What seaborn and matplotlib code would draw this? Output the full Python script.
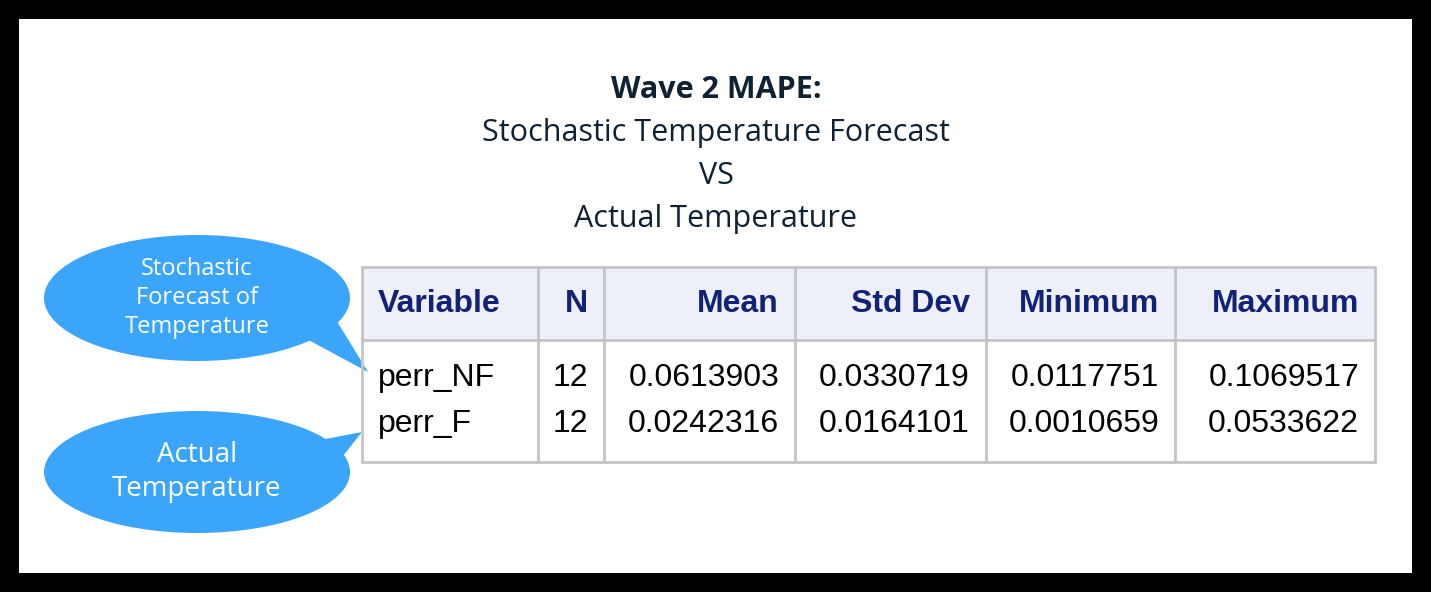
import matplotlib
matplotlib.use("Agg")
import matplotlib.pyplot as plt
import seaborn as sns
from matplotlib.patches import Rectangle, Ellipse, Polygon

sns.set_theme(style="white")
plt.rcParams['font.family'] = ['Open Sans', 'DejaVu Sans']

# table data
columns = ["Variable", "N", "Mean", "Std Dev", "Minimum", "Maximum"]
variables = ["perr_NF", "perr_F"]
n_obs = [12, 12]
means = ["0.0613903", "0.0242316"]
std_devs = ["0.0330719", "0.0164101"]
minimums = ["0.0117751", "0.0010659"]
maximums = ["0.1069517", "0.0533622"]

title_lines = ["Stochastic Temperature Forecast", "VS", "Actual Temperature"]
callouts = ["Stochastic\nForecast of\nTemperature", "Actual\nTemperature"]

fig = plt.figure(figsize=(14.31, 5.92), dpi=100)
fig.patch.set_facecolor("black")
ax = fig.add_axes([0, 0, 1, 1])
ax.set_xlim(0, 1431)
ax.set_ylim(592, 0)
ax.axis("off")

ax.add_patch(Rectangle((19, 19), 1393, 554, facecolor="white", edgecolor="none"))

# title
dark = "#0e2233"
ax.text(716, 90, "Wave 2 MAPE:", ha="center", va="center", fontsize=22, fontweight="bold", color=dark)
for i, line in enumerate(title_lines):
    ax.text(716, 133 + i * 43, line, ha="center", va="center", fontsize=22, color=dark)

# table
edges = [362, 538, 604, 795, 986, 1175, 1375]
top, head_bot, bot = 267, 340, 462
grid = "#c4c4c4"
ax.add_patch(Rectangle((edges[0], top), edges[-1] - edges[0], head_bot - top,
                       facecolor="#edf0f8", edgecolor="none"))
for x in edges:
    ax.plot([x, x], [top, bot], color=grid, lw=2)
for y in (top, head_bot, bot):
    ax.plot([edges[0], edges[-1]], [y, y], color=grid, lw=2)

tfont = ['Liberation Sans', 'DejaVu Sans']
navy = "#112277"
for j, col in enumerate(columns):
    if j == 0:
        ax.text(edges[0] + 16, 304, col, ha="left", va="center", fontsize=23,
                fontweight="bold", color=navy, family=tfont)
    else:
        ax.text(edges[j + 1] - 16, 304, col, ha="right", va="center", fontsize=23,
                fontweight="bold", color=navy, family=tfont)

rows = list(zip(variables, n_obs, means, std_devs, minimums, maximums))
for i, row in enumerate(rows):
    y = 378 + i * 46
    for j, val in enumerate(row):
        if j == 0:
            ax.text(edges[0] + 16, y, str(val), ha="left", va="center", fontsize=23,
                    color="black", family=tfont)
        else:
            ax.text(edges[j + 1] - 16, y, str(val), ha="right", va="center", fontsize=23,
                    color="black", family=tfont)

# callouts
blue = "#3aa5fa"
ax.add_patch(Polygon([[290, 330], [335, 318], [368, 372]], facecolor=blue, edgecolor="none"))
ax.add_patch(Ellipse((197, 298), 306, 126, facecolor=blue, edgecolor="none"))
ax.add_patch(Polygon([[320, 440], [335, 466], [362, 432]], facecolor=blue, edgecolor="none"))
ax.add_patch(Ellipse((197, 472), 306, 122, facecolor=blue, edgecolor="none"))
ax.text(197, 298, callouts[0], ha="center", va="center", fontsize=17, color="white",
        linespacing=1.3)
ax.text(197, 472, callouts[1], ha="center", va="center", fontsize=20, color="white",
        linespacing=1.25)

fig.savefig("out.png", dpi=100, facecolor="black")
